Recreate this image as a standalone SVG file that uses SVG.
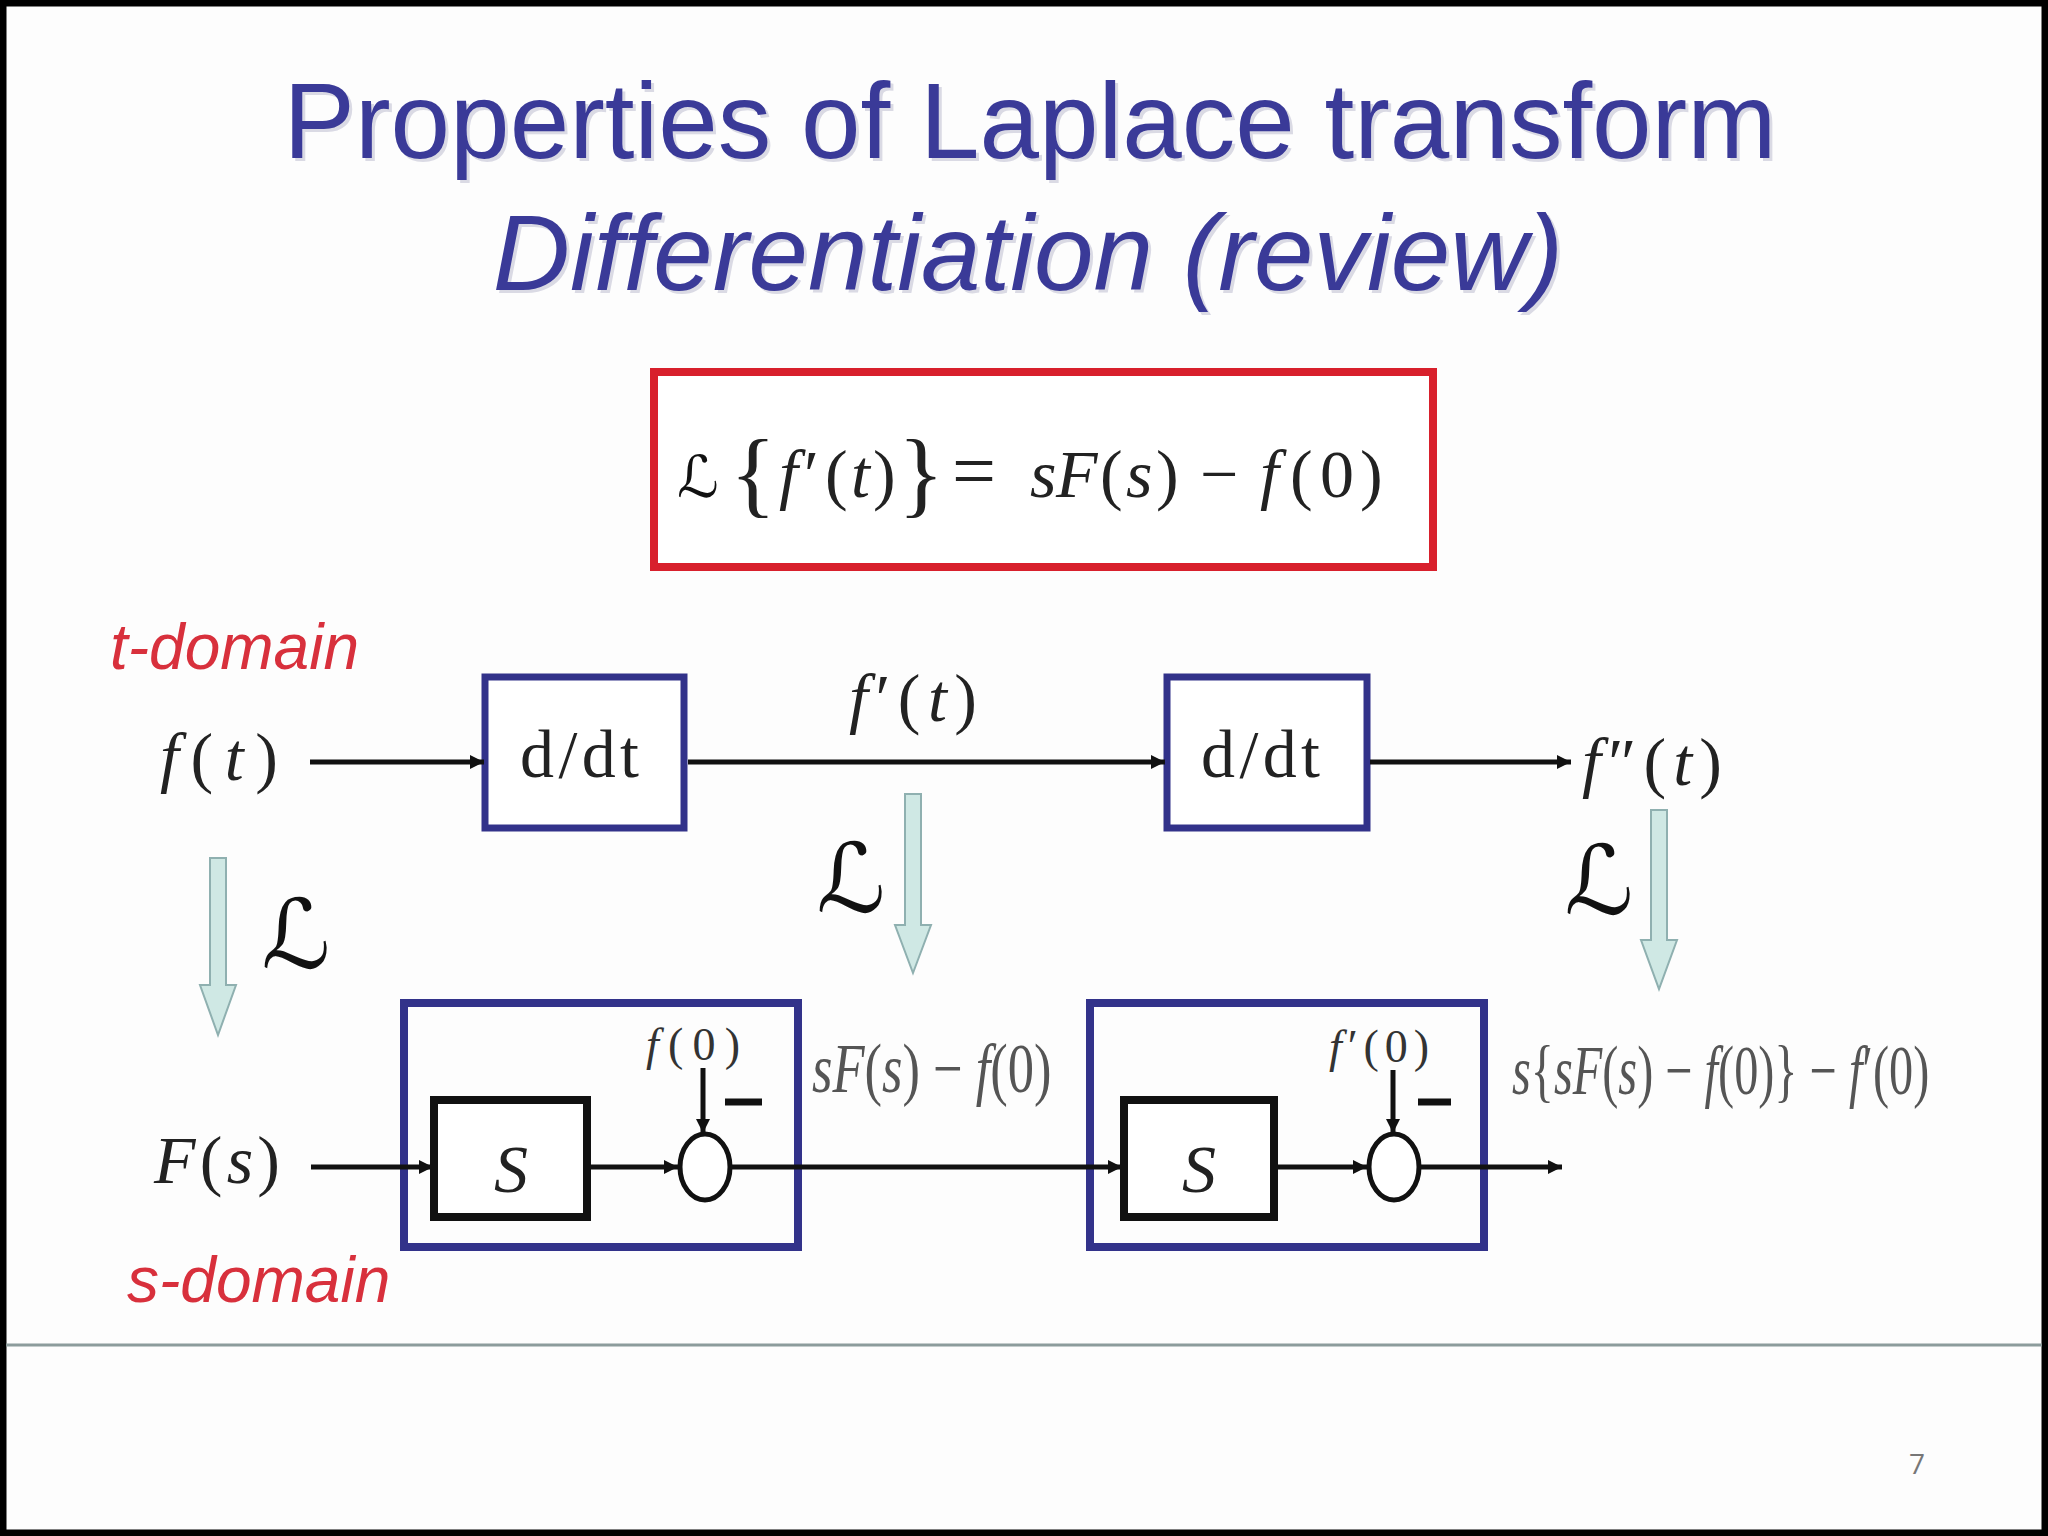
<svg xmlns="http://www.w3.org/2000/svg" width="2048" height="1536" viewBox="0 0 2048 1536">
<style>
.title{font-family:"Liberation Sans",Arial,sans-serif;font-size:107px;fill:#3a3a98}
.shadow{font-family:"Liberation Sans",Arial,sans-serif;font-size:107px;fill:#9a9ab8;opacity:0.35}
.red{font-family:"Liberation Sans",Arial,sans-serif;font-size:64px;font-style:italic;fill:#d8303c}
.m{font-family:"Liberation Serif","Times New Roman",serif;font-size:68px;fill:#222}
.i{font-style:italic}
.sm{font-family:"Liberation Serif","Times New Roman",serif;font-size:46px;fill:#333}
.gm{font-family:"Liberation Serif","Times New Roman",serif;font-size:70px;fill:#555}
.scr{font-family:"DejaVu Serif","DejaVu Sans",serif;fill:#111}
.wire{stroke:#111;stroke-width:5;fill:none}
.blue{fill:none;stroke:#32328a;stroke-width:8}
.blk{fill:#fff;stroke:#111;stroke-width:8}
.lar{fill:#cfe8e4;stroke:#8fb0b0;stroke-width:2}
</style>
<defs>
<marker id="ah" viewBox="0 0 10 10" refX="10" refY="5" markerWidth="18" markerHeight="14" markerUnits="userSpaceOnUse" orient="auto"><path d="M0,0 L10,5 L0,10 z" fill="#111"/></marker>
</defs>
<rect x="0" y="0" width="2048" height="1536" fill="#fdfdfd"/>
<rect x="3" y="3" width="2042" height="1530" fill="none" stroke="#000" stroke-width="7"/>

<g id="title">
<text class="shadow" x="1033" y="161" text-anchor="middle">Properties of Laplace transform</text>
<text class="title" x="1030" y="158" text-anchor="middle">Properties of Laplace transform</text>
<text class="shadow" x="1031" y="293" text-anchor="middle" font-style="italic">Differentiation (review)</text>
<text class="title" x="1028" y="290" text-anchor="middle" font-style="italic">Differentiation (review)</text>
</g>

<g id="formula">
<rect x="654" y="372" width="779" height="195" fill="#fff" stroke="#d8202c" stroke-width="8"/>
<text class="m" y="497"><tspan class="scr" x="677" font-size="58">ℒ</tspan><tspan x="730" y="505" font-size="96">{</tspan><tspan x="779" y="497" class="i">f</tspan><tspan x="804">′</tspan><tspan x="825">(</tspan><tspan x="851" class="i">t</tspan><tspan x="873">)</tspan><tspan x="898" y="505" font-size="96">}</tspan><tspan x="952" y="497" font-size="78">=</tspan><tspan x="1030" class="i">s</tspan><tspan x="1056" class="i">F</tspan><tspan x="1100">(</tspan><tspan x="1126" class="i">s</tspan><tspan x="1156">)</tspan><tspan x="1200">−</tspan><tspan x="1260" class="i">f</tspan><tspan x="1290">(</tspan><tspan x="1320">0</tspan><tspan x="1360">)</tspan></text>
</g>

<g id="labels">
<text class="red" x="110" y="669">t-domain</text>
<text class="red" x="127" y="1302">s-domain</text>
<text class="m" x="160" y="780" textLength="118" lengthAdjust="spacing"><tspan class="i">f</tspan>(<tspan class="i">t</tspan>)</text>
<text class="m" x="849" y="721" textLength="128" lengthAdjust="spacing"><tspan class="i">f</tspan>′(<tspan class="i">t</tspan>)</text>
<text class="m" x="1582" y="785" textLength="140" lengthAdjust="spacing"><tspan class="i">f</tspan>″(<tspan class="i">t</tspan>)</text>
<text class="m" x="154" y="1183" textLength="126" lengthAdjust="spacing"><tspan class="i">F</tspan>(<tspan class="i">s</tspan>)</text>
<text class="gm" transform="translate(812,1092) scale(0.75,1)" x="0" y="0"><tspan class="i">sF</tspan>(<tspan class="i">s</tspan>) − <tspan class="i">f</tspan>(0)</text>
<text class="gm" transform="translate(1512,1094) scale(0.69,1)" x="0" y="0"><tspan class="i">s</tspan>{<tspan class="i">sF</tspan>(<tspan class="i">s</tspan>) − <tspan class="i">f</tspan>(0)} − <tspan class="i">f</tspan>′(0)</text>
<text class="scr" x="296" y="968" font-size="96" text-anchor="middle" font-style="italic">ℒ</text>
<text class="scr" x="851" y="912" font-size="96" text-anchor="middle" font-style="italic">ℒ</text>
<text class="scr" x="1599" y="914" font-size="96" text-anchor="middle" font-style="italic">ℒ</text>
</g>

<g id="ddt1">
<rect x="485" y="677" width="199" height="151" fill="#fff" stroke="#32328a" stroke-width="7"/>
<text class="m" x="520" y="777" font-size="72" textLength="119" lengthAdjust="spacing">d/dt</text>
</g>
<g id="ddt2">
<rect x="1167" y="677" width="200" height="151" fill="#fff" stroke="#32328a" stroke-width="7"/>
<text class="m" x="1201" y="777" font-size="72" textLength="119" lengthAdjust="spacing">d/dt</text>
</g>

<g id="sblock1">
<rect class="blue" x="404" y="1003" width="394" height="244"/>
<rect class="blk" x="434" y="1100" width="153" height="117"/>
<text class="m i" x="511" y="1192" font-size="84" text-anchor="middle">S</text>
<ellipse cx="705" cy="1167" rx="25" ry="33" fill="#fff" stroke="#111" stroke-width="5"/>
<text class="sm" x="646" y="1060" textLength="94" lengthAdjust="spacing"><tspan class="i">f</tspan>(0)</text>
<line x1="725" y1="1102" x2="762" y2="1102" stroke="#111" stroke-width="7"/>
</g>
<g id="sblock2">
<rect class="blue" x="1090" y="1003" width="394" height="244"/>
<rect class="blk" x="1124" y="1100" width="150" height="117"/>
<text class="m i" x="1199" y="1192" font-size="84" text-anchor="middle">S</text>
<ellipse cx="1394" cy="1167" rx="25" ry="33" fill="#fff" stroke="#111" stroke-width="5"/>
<text class="sm" x="1329" y="1062" textLength="100" lengthAdjust="spacing"><tspan class="i">f</tspan>′(0)</text>
<line x1="1418" y1="1102" x2="1451" y2="1102" stroke="#111" stroke-width="7"/>
</g>

<g id="connectors">
<path class="wire" d="M310,762 H484" marker-end="url(#ah)"/>
<path class="wire" d="M688,762 H1165" marker-end="url(#ah)"/>
<path class="wire" d="M1370,762 H1571" marker-end="url(#ah)"/>
<path class="wire" d="M311,1167 H433" marker-end="url(#ah)"/>
<path class="wire" d="M590,1167 H678" marker-end="url(#ah)"/>
<path class="wire" d="M730,1167 H1122" marker-end="url(#ah)"/>
<path class="wire" d="M1277,1167 H1367" marker-end="url(#ah)"/>
<path class="wire" d="M1419,1167 H1562" marker-end="url(#ah)"/>
<path class="wire" d="M703,1068 V1133" marker-end="url(#ah)"/>
<path class="wire" d="M1393,1070 V1133" marker-end="url(#ah)"/>
<polygon class="lar" points="210,858 226,858 226,985 236,985 218,1035 200,985 210,985"/>
<polygon class="lar" points="905,794 921,794 921,925 931,925 913,973 895,925 905,925"/>
<polygon class="lar" points="1651,810 1667,810 1667,940 1677,940 1659,989 1641,940 1651,940"/>
</g>

<line x1="6" y1="1345" x2="2042" y2="1345" stroke="#8c9c9c" stroke-width="3"/>
<text x="1917" y="1474" font-family="'Open Sans','Liberation Sans',sans-serif" font-size="28" fill="#777" text-anchor="middle">7</text>
</svg>
